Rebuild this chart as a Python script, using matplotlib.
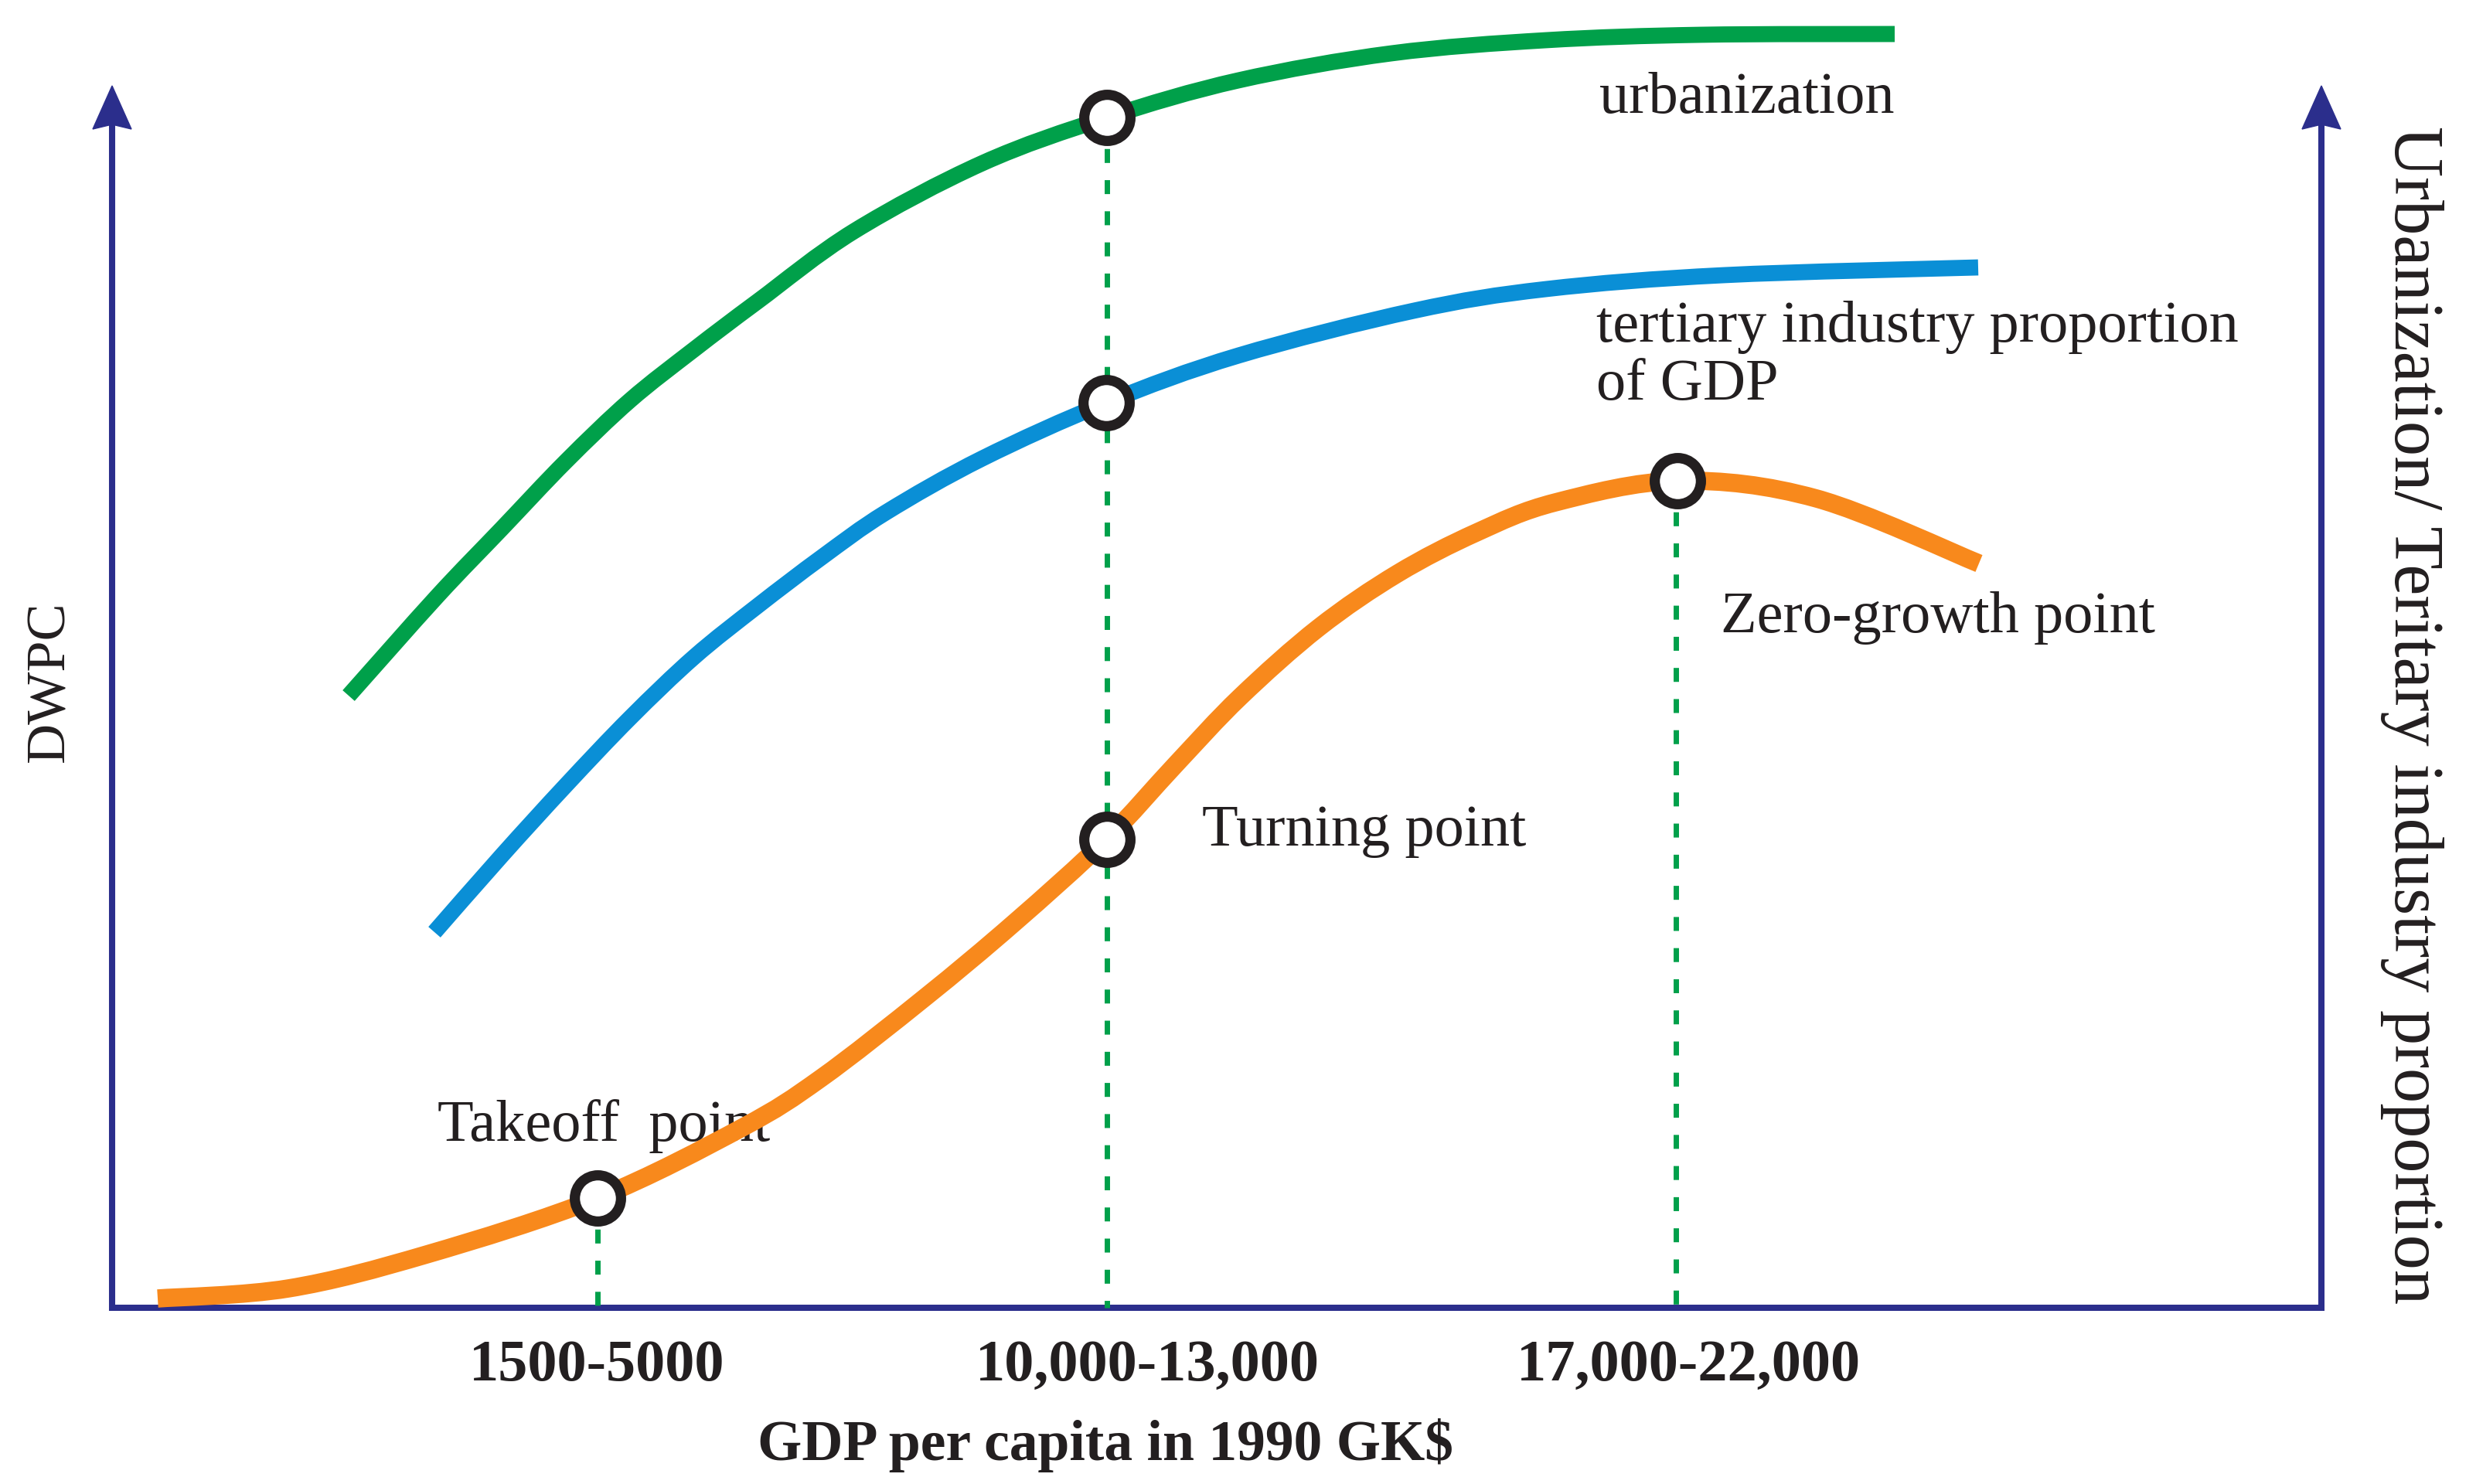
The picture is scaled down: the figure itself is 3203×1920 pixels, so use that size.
import matplotlib
matplotlib.use("Agg")
import matplotlib.pyplot as plt
from matplotlib.patches import Polygon, PathPatch
from matplotlib.path import Path

# canvas units = pixels of the 3203 x 1920 picture, y grows downwards
urban_x = [451, 566, 649, 732, 815, 898, 980, 1105, 1271, 1432, 1602, 1800, 2000, 2200, 2451]
urban_y = [900, 771, 684, 597, 518, 452, 390, 299, 211, 152, 104, 69, 52, 45, 44]

tert_x = [562, 649, 732, 815, 898, 980, 1063, 1146, 1271, 1431, 1602, 1829, 2000, 2230, 2559]
tert_y = [1206, 1107, 1016, 929, 850, 784, 721, 663, 593, 521, 460, 402, 374, 356, 346]

dwpc_x = [204, 373, 552, 773, 960, 1062, 1196, 1312, 1431, 1520, 1604, 1706, 1808, 1910, 2012, 2172, 2350, 2560]
dwpc_y = [1680, 1667, 1623, 1550, 1459, 1395, 1291, 1194, 1086, 990, 902, 812, 742, 689, 650, 622, 645, 729]

# key points (circles)
pts_x = [773, 1432, 1431, 1432, 2170]
pts_y = [1550, 1086, 521, 152, 622]

# dashed guides: x, top
guide_x = [773, 1432, 2168]
guide_top = [1550, 152, 622]

tick_x = [772, 1484, 2184]
tick_labels = ["1500-5000", "10,000-13,000", "17,000-22,000"]

ax_left, ax_right, ax_bottom, ax_top = 145, 3003, 1692, 111

navy = "#2b2e8c"
green = "#00a04a"
blue = "#0a8fd6"
orange = "#f8891c"
ink = "#231f20"

plt.rcParams["font.family"] = ["Liberation Serif", "DejaVu Serif"]


def smooth_path(xs, ys):
    # cubic bezier through the points (Catmull-Rom tangents)
    p = list(zip(xs, ys))
    verts = [p[0]]
    codes = [Path.MOVETO]
    for i in range(len(p) - 1):
        a = p[i - 1] if i > 0 else p[i]
        b, c = p[i], p[i + 1]
        d = p[i + 2] if i + 2 < len(p) else p[i + 1]
        c1 = (b[0] + (c[0] - a[0]) / 6, b[1] + (c[1] - a[1]) / 6)
        c2 = (c[0] - (d[0] - b[0]) / 6, c[1] - (d[1] - b[1]) / 6)
        verts += [c1, c2, c]
        codes += [Path.CURVE4] * 3
    return Path(verts, codes)


fig = plt.figure(figsize=(32.03, 19.2), dpi=100)
ax = fig.add_axes([0, 0, 1, 1])
ax.set_xlim(0, 3203)
ax.set_ylim(1920, 0)
ax.axis("off")

# axes with arrows
ax.plot([ax_left, ax_left, ax_right, ax_right], [ax_top + 50, ax_bottom, ax_bottom, ax_top + 50],
        color=navy, lw=5.8, solid_joinstyle="miter", zorder=2)
for xa in (ax_left, ax_right):
    ax.add_patch(Polygon([(xa, ax_top), (xa - 25, ax_top + 56), (xa, ax_top + 50), (xa + 25, ax_top + 56)],
                         closed=True, color=navy, zorder=2))

# dashed guides
for gx, gt in zip(guide_x, guide_top):
    ax.plot([gx, gx], [gt, ax_bottom], color=green, lw=5, dashes=(2.6, 3.2),
            dash_capstyle="butt", zorder=3)

for xs, ys, col, w in [(urban_x, urban_y, green, 15), (tert_x, tert_y, blue, 15), (dwpc_x, dwpc_y, orange, 17)]:
    ax.add_patch(PathPatch(smooth_path(xs, ys), fill=False, edgecolor=col, lw=w,
                           capstyle="butt", joinstyle="round", zorder=4))

ax.plot(pts_x, pts_y, ls="none", marker="o", ms=43, mfc="white", mec=ink, mew=9.5, zorder=5)

fs = 55
ax.text(2069, 146, "urbanization", fontsize=fs, color=ink, va="baseline")
ax.text(2065, 442, "tertiary industry proportion", fontsize=fs, color=ink, va="baseline")
ax.text(2065, 517, "of GDP", fontsize=fs, color=ink, va="baseline")
ax.text(2226, 818, "Zero-growth point", fontsize=fs, color=ink, va="baseline")
ax.text(1555, 1094, "Turning point", fontsize=fs, color=ink, va="baseline")
ax.text(566, 1476, "Takeoff  point", fontsize=fs, color=ink, va="baseline")

for tx, tl in zip(tick_x, tick_labels):
    ax.text(tx, 1786, tl, fontsize=55, fontweight="bold", color=ink, ha="center", va="baseline")
ax.text(1430, 1889, "GDP per capita in 1990 GK$", fontsize=53, fontweight="bold", color=ink,
        ha="center", va="baseline")

ax.text(65, 882, "DWPC", fontsize=52, color=ink, rotation=90, ha="center", va="center")
ax.text(3120, 925, "Urbanization/ Teritary industry proportion", fontsize=65, color=ink,
        rotation=-90, ha="center", va="center")

fig.savefig("out.png", dpi=100)
plt.close(fig)
